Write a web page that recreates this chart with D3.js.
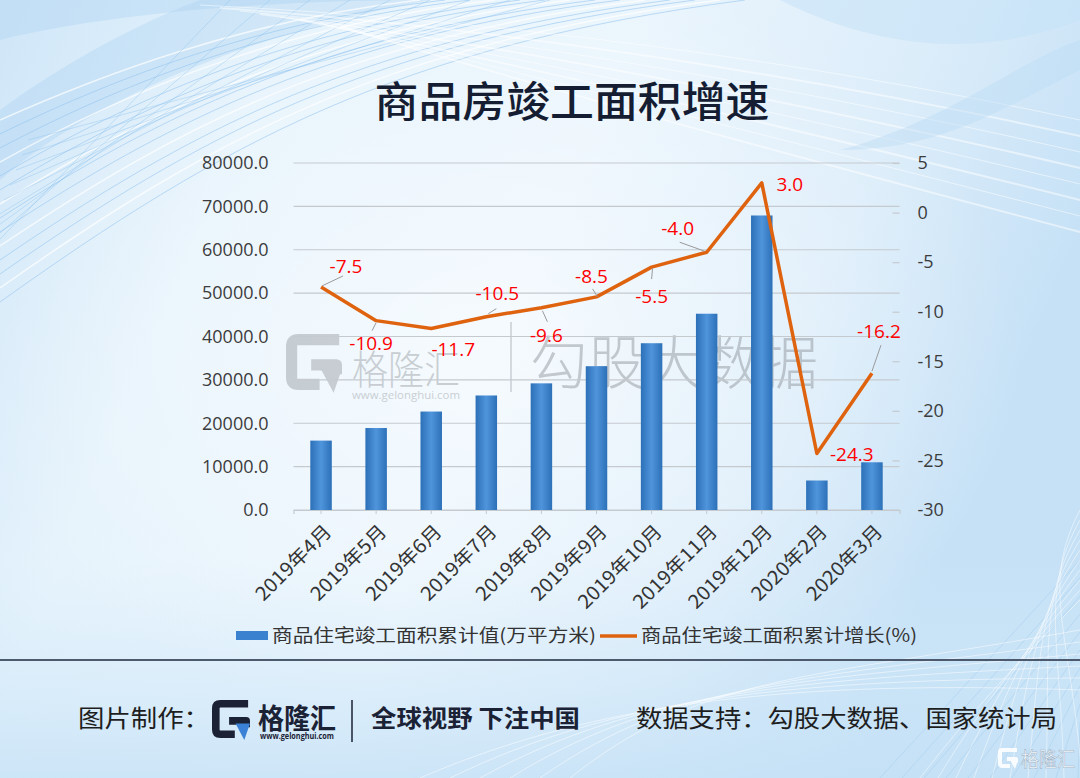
<!DOCTYPE html>
<html><head><meta charset="utf-8">
<script src="https://cdn.jsdelivr.net/npm/d3@7/dist/d3.min.js"></script>
<style>
html,body{margin:0;padding:0;background:#e4f1fb;}
svg{display:block;}
</style></head>
<body>
<svg id="chart" width="1080" height="778"></svg>
<script>
// ---------- DATA ----------
const categories = ["2019年4月","2019年5月","2019年6月","2019年7月","2019年8月","2019年9月","2019年10月","2019年11月","2019年12月","2020年2月","2020年3月"];
const areaValues = [16000, 18900, 22700, 26400, 29200, 33150, 38450, 45250, 67900, 6800, 11000];
const growthValues = [-7.5, -10.9, -11.7, -10.5, -9.6, -8.5, -5.5, -4.0, 3.0, -24.3, -16.2];
const leftTicks = [0, 10000, 20000, 30000, 40000, 50000, 60000, 70000, 80000];
const rightTicks = [5, 0, -5, -10, -15, -20, -25, -30];
const seriesNames = ["商品住宅竣工面积累计值(万平方米)", "商品住宅竣工面积累计增长(%)"];
const titleText = "商品房竣工面积增速";

// label placement (offsets from each point, layout only)
const labelOffsets = [[25,-21],[-5,22],[22,20],[11,-24],[5,27],[-5,-21],[0,29],[-29,-24],[28,1],[35,1],[7,-42]];
const leaderOffsets = [[1,-1,22,-11],[0,2,-4,10],null,[2,-3,10,-8],[1,3,6,14],[1,0,-4,-8],[1,1,0,12],[-2,-1,-27,-10],null,null,[0,-2,9,-28]];

const loc = d3.formatLocale({decimal:".", thousands:",", grouping:[3], currency:["",""], minus:"-"});
const fmt1 = loc.format(".1f"), fmt0 = loc.format("d");

const svg = d3.select("#chart");
const W = 1080, H = 778;
const defs = svg.append("defs");

// ---------- BACKGROUND ----------
const bg = defs.append("linearGradient").attr("id","bgGrad").attr("x1","0").attr("y1","0").attr("x2","1").attr("y2","0.3");
[[0,"#cfe6f8"],[0.25,"#e6f3fc"],[0.55,"#eaf5fd"],[0.8,"#dcedfa"],[1,"#c6e1f6"]].forEach(([o,c])=>bg.append("stop").attr("offset",o).attr("stop-color",c));
svg.append("rect").attr("width",W).attr("height",H).attr("fill","url(#bgGrad)");
const rg = defs.append("radialGradient").attr("id","glow").attr("cx","0.45").attr("cy","0.45").attr("r","0.5");
rg.append("stop").attr("offset",0).attr("stop-color","#ffffff").attr("stop-opacity",0.55);
rg.append("stop").attr("offset",1).attr("stop-color","#ffffff").attr("stop-opacity",0);
svg.append("rect").attr("width",W).attr("height",H).attr("fill","url(#glow)");
const bot = defs.append("linearGradient").attr("id","botGrad").attr("x1","0").attr("y1","0").attr("x2","0").attr("y2","1");
bot.append("stop").attr("offset",0).attr("stop-color","#d6ebfa").attr("stop-opacity",0);
bot.append("stop").attr("offset",1).attr("stop-color","#c5e1f6").attr("stop-opacity",0.8);
svg.append("rect").attr("y",560).attr("width",W).attr("height",218).attr("fill","url(#botGrad)");

// decorative sweeping lines
const deco = svg.append("g").attr("fill","none");
deco.append("path").attr("d","M0,40 C120,10 300,0 420,0 L0,0 Z").attr("fill","#b5d8f4").attr("opacity",0.5);
deco.append("path").attr("d","M0,180 C80,110 220,40 430,0 L200,0 C120,30 40,80 0,110 Z").attr("fill","#a9d1f2").attr("opacity",0.35);
for (let i=0;i<14;i++){
  deco.append("path")
    .attr("d",`M0,${120+i*14} C${90+i*10},${80+i*5} ${240+i*12},${20+i*2} ${420+i*25},0`)
    .attr("stroke",i%3===0?"#ffffff":"#8fc2ee").attr("stroke-width",i%3===0?1.5:0.8).attr("opacity",0.7);
}
for (let i=0;i<9;i++){
  deco.append("path")
    .attr("d",`M${-20+i*6},${260-i*15} L${230+i*40},0`)
    .attr("stroke","#8fc2ee").attr("stroke-width",0.7).attr("opacity",0.6);
}
for (let i=0;i<8;i++){
  deco.append("path")
    .attr("d",`M${200+i*20},${5+i*3} C${500},${20+i*8} ${800},${60+i*14} ${1080},${120+i*16}`)
    .attr("stroke","#ffffff").attr("stroke-width",i%2?2:1).attr("opacity",0.5);
}
deco.append("path").attr("d","M780,0 C900,60 1000,50 1080,20 L1080,0 Z").attr("fill","#c4e1f7").attr("opacity",0.5);
deco.append("path").attr("d","M840,150 C950,120 1020,60 1080,40 L1080,70 C1000,110 940,150 840,150 Z").attr("fill","#bcdcf5").attr("opacity",0.45);
for (let i=0;i<10;i++){
  deco.append("path").attr("d",`M${880+i*22},778 L1080,${560+i*18}`).attr("stroke","#9cc9ef").attr("stroke-width",0.7).attr("opacity",0.6);
  deco.append("path").attr("d",`M${920+i*18},778 C${980+i*10},${700-i*8} ${1040},${640-i*6} 1080,${600-i*10}`).attr("stroke","#ffffff").attr("stroke-width",0.8).attr("opacity",0.6);
}
for (let i=0;i<6;i++){
  deco.append("path").attr("d",`M${420+i*30},778 C${600+i*20},${700-i*5} ${800},${680} 1080,${690-i*12}`).attr("stroke","#ffffff").attr("stroke-width",1).attr("opacity",0.5);
}

// ---------- SCALES ----------
const plotL = 293.5, plotR = 899.5, plotT = 163, plotB = 510;
const x = d3.scaleBand().domain(categories).range([plotL, plotR]).paddingInner(0.61).paddingOuter(0.305);
const yL = d3.scaleLinear().domain([0, 80000]).range([plotB, plotT]);
const yR = d3.scaleLinear().domain([-30, 5]).range([plotB, plotT]);
const cx = d => x(d) + x.bandwidth()/2;

const numFont = "'Open Sans','Noto Sans',sans-serif";
const cjkFont = "'Noto Sans CJK SC','Noto Sans',sans-serif";

// ---------- TITLE ----------
svg.append("text").attr("x",572).attr("y",117).attr("text-anchor","middle")
  .attr("font-family",cjkFont).attr("font-size",42).attr("font-weight",500).attr("fill","#151d33")
  .attr("textLength",395).attr("lengthAdjust","spacingAndGlyphs").text(titleText);

// ---------- WATERMARK ----------
function gLogo(g, s, col, accent){
  g.append("path")
    .attr("d",`M${s*0.95},${s*0.1} L${s*0.22},${s*0.1} Q${s*0.1},${s*0.1} ${s*0.1},${s*0.22} L${s*0.1},${s*0.78} Q${s*0.1},${s*0.9} ${s*0.22},${s*0.9} L${s*0.6},${s*0.9} M${s*0.45},${s*0.55} L${s*0.9},${s*0.55} L${s*0.9},${s*0.72}`)
    .attr("fill","none").attr("stroke",col).attr("stroke-width",s*0.2).attr("stroke-linejoin","round");
  g.append("path").attr("d",`M${s*0.62},${s*0.62} L${s*1.0},${s*0.62} L${s*0.85},${s*1.05} Z`).attr("fill",accent);
}
const wm = svg.append("g").attr("opacity",0.4);
gLogo(wm.append("g").attr("transform","translate(286,334)"), 56, "#8a8e94", "#8a8e94");
wm.append("text").attr("x",352).attr("y",384).attr("font-family",cjkFont).attr("font-size",40).attr("font-weight",300).attr("fill","#8a8e94")
  .attr("textLength",108).attr("lengthAdjust","spacingAndGlyphs").text("格隆汇");
wm.append("text").attr("x",352).attr("y",399).attr("font-family",numFont).attr("font-size",10).attr("fill","#8a8e94")
  .attr("textLength",108).attr("lengthAdjust","spacingAndGlyphs").text("www.gelonghui.com");
wm.append("line").attr("x1",511).attr("x2",511).attr("y1",322).attr("y2",392).attr("stroke","#8a8e94").attr("stroke-width",1.5);
wm.append("text").attr("x",530).attr("y",384).attr("font-family",cjkFont).attr("font-size",58).attr("font-weight",300).attr("fill","#7c8188")
  .attr("textLength",288).attr("lengthAdjust","spacingAndGlyphs").text("勾股大数据");

// ---------- GRIDLINES ----------
svg.append("g").selectAll("line").data(leftTicks).join("line")
  .attr("x1",plotL).attr("x2",plotR).attr("y1",d=>yL(d)).attr("y2",d=>yL(d))
  .attr("stroke","#c5cacf").attr("stroke-width",1.2);

// ---------- AXES ----------
const axL = svg.append("g").attr("transform",`translate(${plotL},0)`)
  .call(d3.axisLeft(yL).tickValues(leftTicks).tickFormat(fmt1).tickSize(0).tickPadding(25));
axL.select(".domain").remove();
axL.selectAll("text").attr("font-family",numFont).attr("font-size",18).attr("fill","#3c3c3c");

const axR = svg.append("g").attr("transform",`translate(${plotR},0)`)
  .call(d3.axisRight(yR).tickValues(rightTicks).tickFormat(fmt0).tickSize(-7).tickPadding(18));
axR.select(".domain").remove();
axR.selectAll("line").attr("stroke","#c5cacf").attr("stroke-width",1.2);
axR.selectAll("text").attr("font-family",numFont).attr("font-size",18).attr("fill","#3c3c3c");

const axB = svg.append("g").attr("transform",`translate(0,${plotB})`)
  .call(d3.axisBottom(x).tickSize(4).tickPadding(4));
axB.select(".domain").attr("stroke","#c5cacf").attr("stroke-width",1.2);
axB.selectAll("line").attr("stroke","#c5cacf");
axB.selectAll("text").attr("font-family",cjkFont).attr("font-size",19).attr("fill","#333")
  .attr("text-anchor","end").attr("x",0).attr("y",0).attr("dy","0.35em")
  .attr("transform","translate(7,18) rotate(-45)")
  .each(function(){ const L = this.getComputedTextLength(); d3.select(this).attr("textLength", L*1.08).attr("lengthAdjust","spacingAndGlyphs"); });

// ---------- BARS ----------
const bgd = defs.append("linearGradient").attr("id","barGrad").attr("x1","0").attr("x2","1").attr("y1","0").attr("y2","0");
[[0,"#2c70b8"],[0.5,"#4f95dc"],[1,"#2c70b8"]].forEach(([o,c])=>bgd.append("stop").attr("offset",o).attr("stop-color",c));
svg.append("g").selectAll("rect").data(categories).join("rect")
  .attr("x",d=>x(d)).attr("width",x.bandwidth())
  .attr("y",(d,i)=>yL(areaValues[i])).attr("height",(d,i)=>plotB-yL(areaValues[i]))
  .attr("fill","url(#barGrad)");

// ---------- LINE ----------
const lineGen = d3.line().x((d,i)=>cx(categories[i])).y(d=>yR(d));
svg.append("path").datum(growthValues).attr("d",lineGen)
  .attr("fill","none").attr("stroke","#df630f").attr("stroke-width",3.5).attr("stroke-linejoin","round");

// ---------- LABELS ----------
const lab = svg.append("g");
growthValues.forEach((v,i)=>{
  const px = cx(categories[i]), py = yR(v);
  const lo = leaderOffsets[i];
  if (lo) lab.append("line").attr("x1",px+lo[0]).attr("y1",py+lo[1]).attr("x2",px+lo[2]).attr("y2",py+lo[3])
    .attr("stroke","#9a9a9a").attr("stroke-width",1);
  lab.append("text").attr("x",px+labelOffsets[i][0]).attr("y",py+labelOffsets[i][1])
    .attr("text-anchor","middle").attr("dominant-baseline","central")
    .attr("font-family",numFont).attr("font-size",19).attr("fill","#ff0000")
    .text(fmt1(v));
});

// ---------- LEGEND ----------
const lg = svg.append("g");
lg.append("rect").attr("x",236).attr("y",631).attr("width",32).attr("height",9).attr("fill","#3a82cf");
lg.append("text").attr("x",272).attr("y",642).attr("font-family",cjkFont).attr("font-size",18).attr("fill","#333")
  .attr("textLength",324).attr("lengthAdjust","spacingAndGlyphs").text(seriesNames[0]);
lg.append("line").attr("x1",600).attr("x2",637).attr("y1",636).attr("y2",636).attr("stroke","#df630f").attr("stroke-width",3.5);
lg.append("text").attr("x",641).attr("y",642).attr("font-family",cjkFont).attr("font-size",18).attr("fill","#333")
  .attr("textLength",276).attr("lengthAdjust","spacingAndGlyphs").text(seriesNames[1]);

// separator
svg.append("line").attr("x1",0).attr("x2",W).attr("y1",660).attr("y2",660).attr("stroke","#4d5a6e").attr("stroke-width",2);

// ---------- FOOTER ----------
svg.append("text").attr("x",78).attr("y",727).attr("font-family",cjkFont).attr("font-size",24).attr("fill","#1e1e1e")
  .attr("textLength",132).attr("lengthAdjust","spacingAndGlyphs").text("图片制作：");
gLogo(svg.append("g").attr("transform","translate(212,700)"), 38, "#1b2235", "#3b82d6");
svg.append("text").attr("x",258).attr("y",729).attr("font-family",cjkFont).attr("font-size",28).attr("font-weight",700).attr("fill","#1b2235")
  .attr("textLength",78).attr("lengthAdjust","spacingAndGlyphs").text("格隆汇");
svg.append("text").attr("x",260).attr("y",739).attr("font-family",numFont).attr("font-size",8).attr("font-weight",700).attr("fill","#1b2235")
  .attr("textLength",74).attr("lengthAdjust","spacingAndGlyphs").text("www.gelonghui.com");
svg.append("line").attr("x1",352).attr("x2",352).attr("y1",700).attr("y2",742).attr("stroke","#1b2235").attr("stroke-width",1.5);
svg.append("text").attr("x",371).attr("y",727).attr("font-family",cjkFont).attr("font-size",24).attr("font-weight",700).attr("fill","#1b2235")
  .attr("textLength",209).attr("lengthAdjust","spacingAndGlyphs").text("全球视野 下注中国");
svg.append("text").attr("x",636).attr("y",727).attr("font-family",cjkFont).attr("font-size",24).attr("fill","#1e1e1e")
  .attr("textLength",421).attr("lengthAdjust","spacingAndGlyphs").text("数据支持：勾股大数据、国家统计局");

const sm = svg.append("g").attr("opacity",0.9);
gLogo(sm.append("g").attr("transform","translate(998,748)"), 20, "#ffffff", "#ffffff");
sm.append("text").attr("x",1021).attr("y",767).attr("font-family",cjkFont).attr("font-size",20).attr("fill","#ffffff")
  .attr("stroke","#9fb3c6").attr("stroke-width",0.6)
  .attr("textLength",54).attr("lengthAdjust","spacingAndGlyphs").text("格隆汇");
</script>
</body></html>
